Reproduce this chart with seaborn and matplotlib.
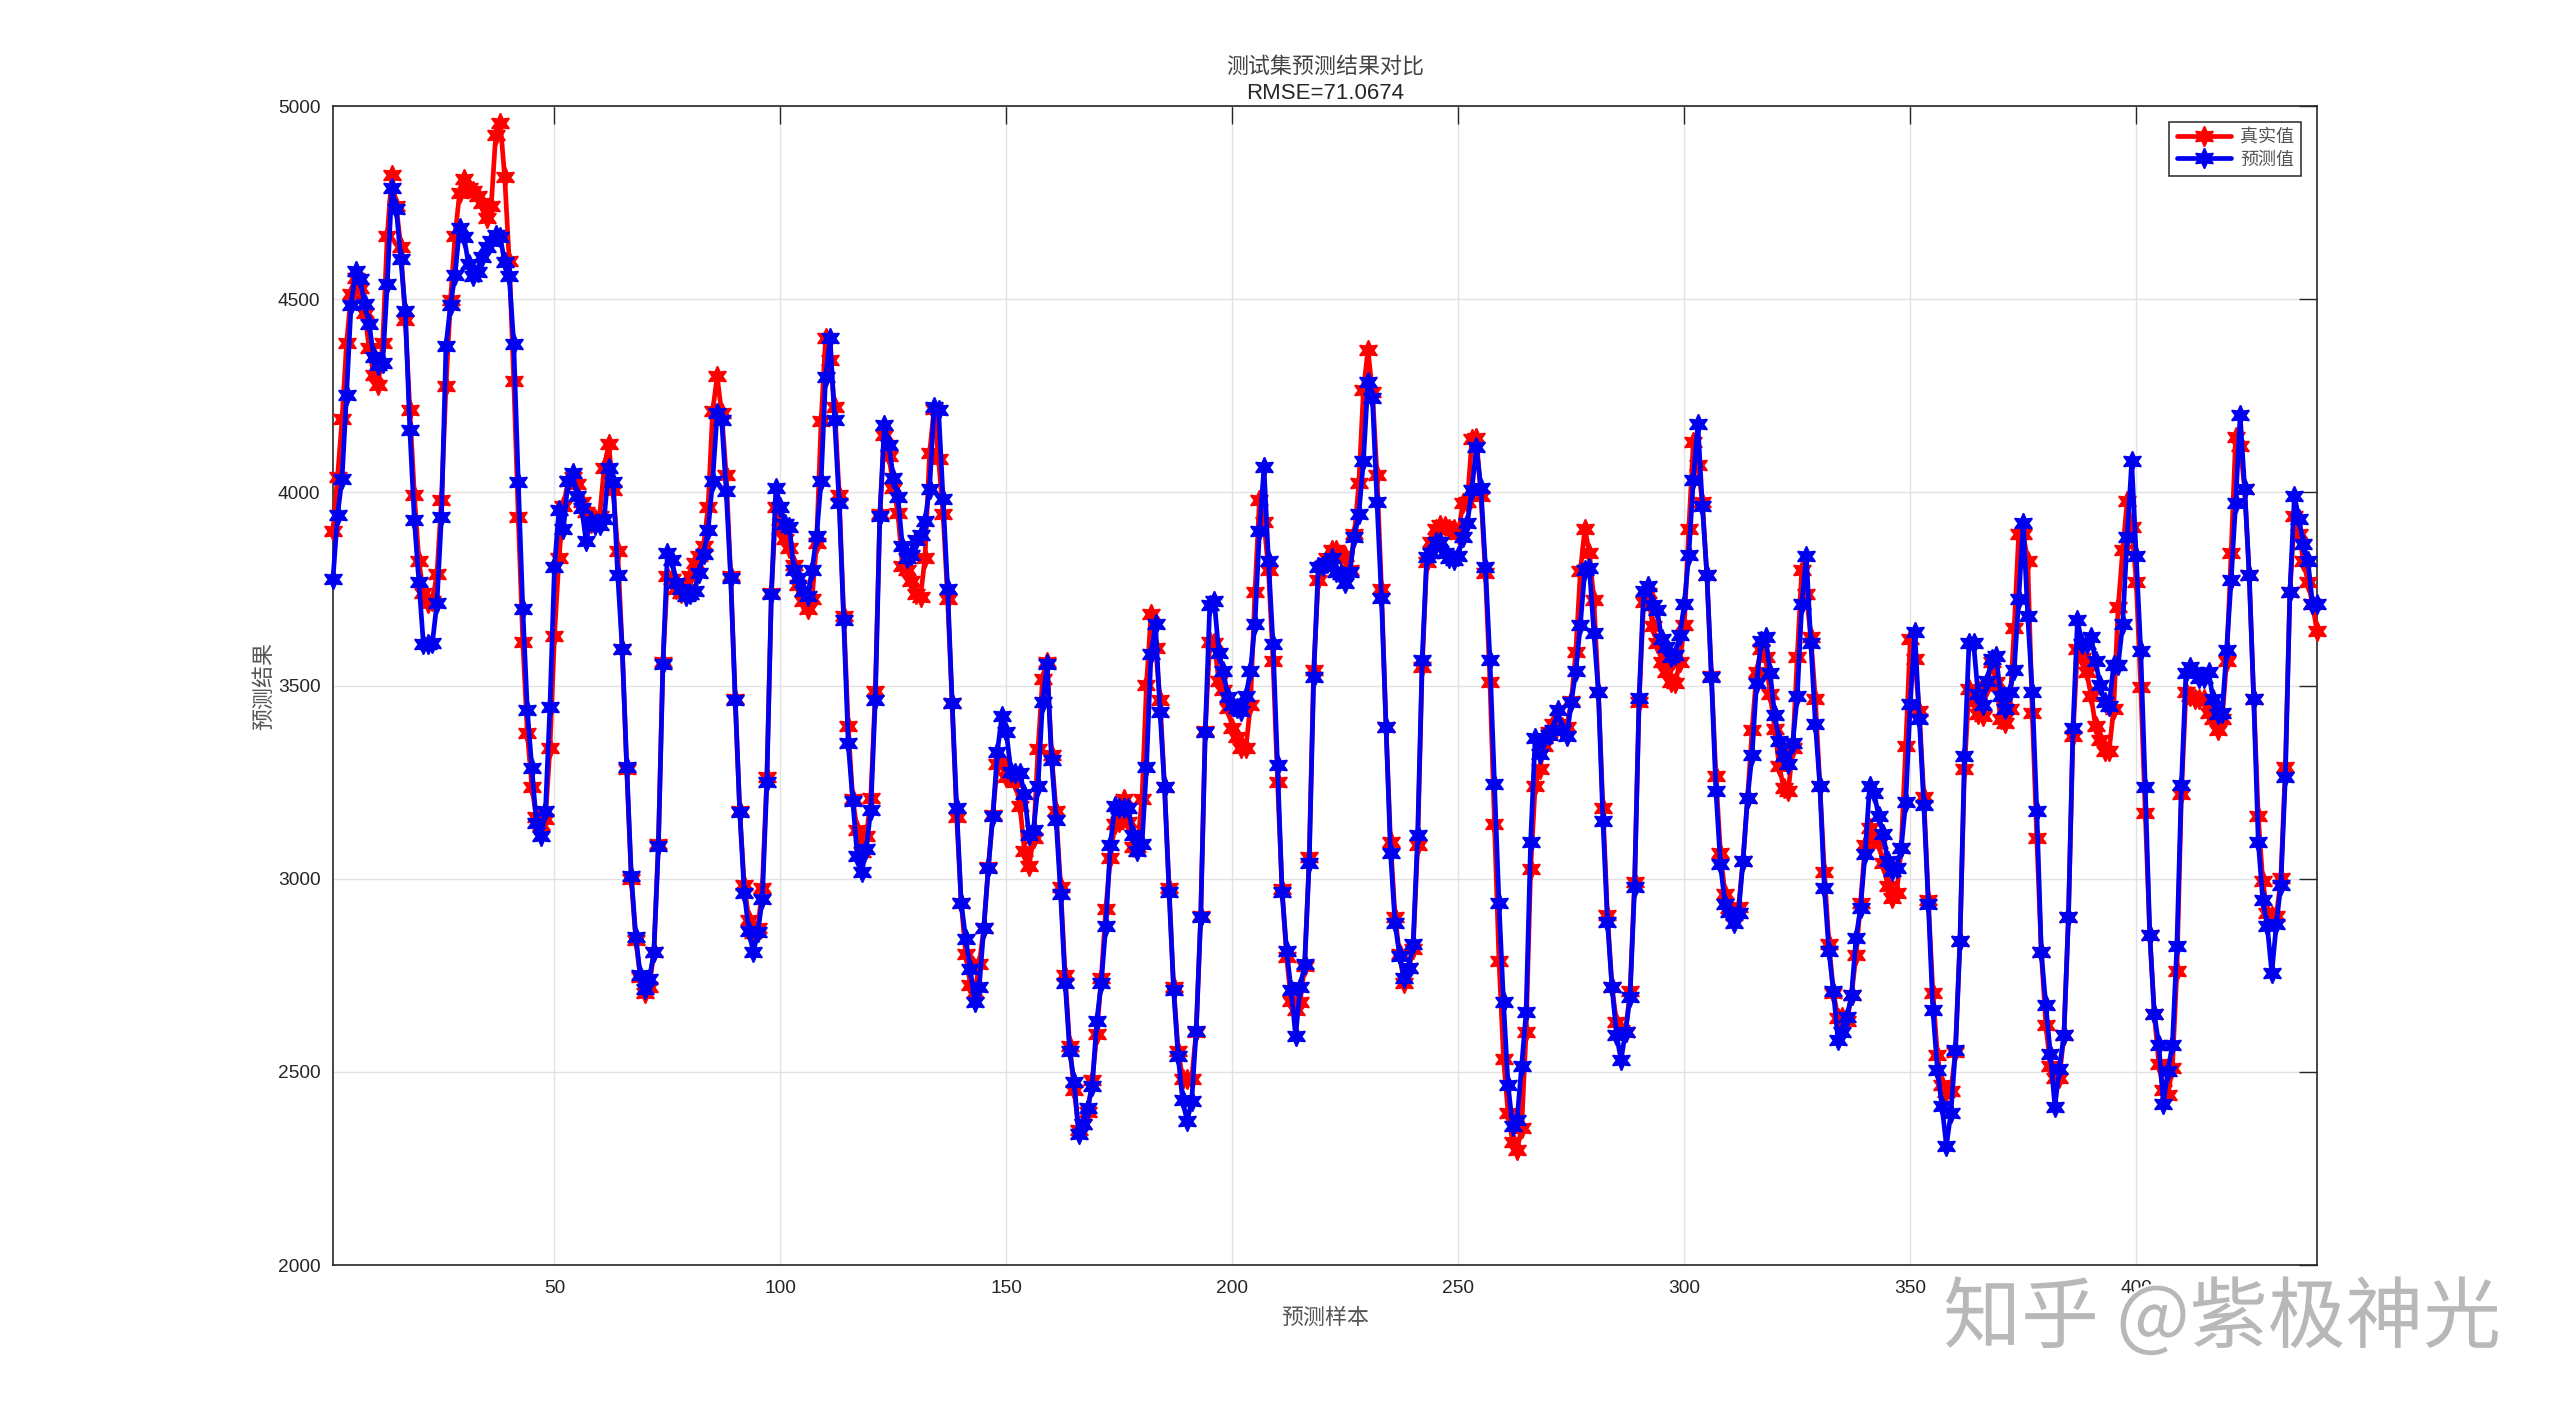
import matplotlib
matplotlib.use("Agg")
import matplotlib.pyplot as plt
import matplotlib.patheffects as pe
import numpy as np
import pandas as pd
import seaborn as sns

true_values = [
    3900,4039,4189,4386,4513,4555,4530,4465,4373,4305,
    4279,4386,4664,4821,4740,4635,4446,4212,3994,3823,
    3739,3714,3720,3788,3981,4275,4497,4664,4774,4812,
    4787,4780,4767,4750,4709,4740,4924,4957,4815,4598,
    4288,3935,3613,3377,3238,3160,3140,3155,3337,3627,
    3829,3964,4030,4040,4022,3975,3950,3920,3930,3940,
    4064,4125,4005,3849,3595,3283,3000,2840,2745,2705,
    2720,2810,3090,3560,3784,3775,3750,3740,3765,3784,
    3817,3835,3860,3963,4210,4300,4205,4046,3784,3465,
    3175,2984,2894,2860,2872,2977,3262,3740,3963,3905,
    3880,3857,3811,3760,3718,3698,3725,3868,4184,4399,
    4343,4221,3993,3681,3394,3205,3126,3070,3110,3209,
    3487,3945,4148,4095,4012,3946,3810,3798,3771,3738,
    3730,3831,4102,4215,4085,3943,3725,3454,3160,2938,
    2806,2726,2704,2779,2872,3030,3165,3298,3302,3263,
    3263,3250,3188,3072,3034,3104,3336,3517,3560,3320,
    3174,2979,2751,2566,2453,2350,2366,2397,2478,2597,
    2744,2921,3054,3141,3147,3205,3147,3083,3083,3205,
    3502,3685,3598,3463,3236,2976,2719,2555,2482,2482,
    2482,2603,2904,3381,3612,3610,3512,3488,3442,3390,
    3367,3338,3338,3450,3743,3980,3922,3798,3564,3251,
    2974,2798,2684,2660,2682,2775,3055,3540,3774,3810,
    3830,3850,3850,3836,3836,3800,3892,4025,4264,4369,
    4260,4046,3749,3393,3096,2902,2804,2731,2769,2818,
    3087,3548,3819,3871,3906,3916,3913,3906,3906,3892,
    3972,3975,4138,4140,3990,3791,3509,3141,2787,2534,
    2394,2319,2298,2354,2603,3026,3239,3284,3344,3380,
    3400,3400,3393,3393,3459,3587,3796,3906,3843,3721,
    3482,3183,2905,2720,2628,2607,2604,2708,2991,3457,
    3716,3740,3653,3610,3562,3534,3509,3506,3560,3656,
    3906,4129,4070,3975,3785,3525,3266,3066,2961,2925,
    2905,2927,3047,3210,3384,3536,3594,3575,3478,3388,
    3292,3234,3227,3337,3575,3800,3736,3626,3465,3240,
    3017,2832,2705,2640,2641,2631,2699,2802,2937,3088,
    3130,3105,3092,3040,2982,2950,2963,3079,3343,3620,
    3568,3433,3212,2944,2705,2544,2467,2448,2450,2551,
    2838,3285,3491,3459,3427,3420,3498,3560,3510,3412,
    3403,3438,3649,3893,3893,3822,3429,3105,2809,2622,
    2515,2485,2485,2595,2900,3370,3595,3572,3536,3474,
    3394,3358,3331,3331,3438,3702,3850,3977,3911,3768,
    3497,3171,2855,2650,2520,2452,2440,2511,2761,3219,
    3483,3474,3465,3465,3465,3429,3412,3385,3412,3563,
    3843,4143,4119,4009,3786,3465,3162,2993,2912,2903,
    2903,3001,3290,3741,3938,3893,3822,3768,3711,3640,
]
pred_values = [
    3776,3941,4035,4253,4485,4572,4551,4487,4437,4350,
    4330,4334,4538,4787,4733,4604,4469,4161,3929,3767,
    3608,3608,3611,3714,3937,4379,4485,4562,4685,4660,
    4590,4560,4570,4610,4635,4650,4665,4660,4595,4560,
    4383,4027,3698,3437,3286,3145,3110,3174,3445,3806,
    3955,3906,4030,4050,3990,3960,3874,3926,3915,3915,
    3932,4063,4026,3785,3595,3289,3007,2850,2750,2715,
    2740,2810,3085,3555,3844,3824,3765,3751,3731,3738,
    3745,3791,3841,3903,4029,4205,4188,4003,3778,3463,
    3173,2964,2865,2809,2861,2948,3249,3738,4012,3963,
    3917,3910,3798,3778,3745,3731,3798,3888,4029,4298,
    4399,4188,3972,3669,3350,3202,3059,3017,3077,3179,
    3463,3939,4175,4122,4036,3989,3860,3831,3837,3877,
    3890,3927,4009,4221,4212,3983,3751,3454,3183,2938,
    2845,2766,2680,2720,2872,3028,3163,3328,3421,3379,
    3277,3274,3274,3219,3112,3126,3240,3457,3556,3307,
    3152,2960,2731,2555,2473,2340,2366,2407,2464,2632,
    2731,2878,3087,3188,3184,3184,3184,3112,3072,3089,
    3288,3581,3658,3431,3236,2965,2713,2540,2426,2372,
    2424,2606,2902,3379,3708,3720,3584,3538,3471,3450,
    3442,3434,3473,3538,3660,3901,4065,3822,3608,3293,
    2965,2814,2713,2592,2719,2779,3040,3523,3807,3809,
    3818,3829,3794,3789,3766,3794,3885,3945,4081,4285,
    4243,3976,3726,3393,3066,2884,2801,2743,2769,2832,
    3113,3565,3833,3843,3871,3871,3843,3829,3825,3836,
    3885,3920,4007,4117,4011,3808,3565,3246,2937,2680,
    2467,2361,2375,2516,2654,3096,3363,3323,3365,3372,
    3384,3436,3386,3368,3457,3537,3657,3798,3803,3636,
    3482,3148,2888,2720,2596,2530,2604,2694,2979,3468,
    3744,3758,3709,3695,3620,3600,3575,3580,3630,3710,
    3839,4032,4178,3965,3787,3523,3227,3037,2935,2914,
    2886,2912,3047,3210,3321,3507,3614,3626,3532,3424,
    3356,3317,3298,3352,3472,3710,3836,3611,3401,3240,
    2976,2812,2708,2583,2603,2641,2699,2847,2925,3064,
    3240,3221,3163,3115,3047,3021,3028,3079,3198,3453,
    3639,3414,3191,2935,2660,2506,2412,2309,2394,2557,
    2838,3317,3611,3611,3478,3450,3511,3569,3576,3474,
    3438,3483,3540,3724,3920,3679,3483,3176,2809,2672,
    2547,2410,2508,2595,2900,3390,3670,3608,3608,3626,
    3563,3501,3456,3447,3554,3554,3658,3884,4080,3835,
    3590,3237,2855,2650,2570,2417,2502,2570,2827,3242,
    3533,3549,3536,3519,3519,3536,3465,3426,3429,3593,
    3772,3973,4200,4009,3786,3465,3096,2944,2877,2755,
    2882,2984,3264,3741,3991,3932,3866,3822,3711,3711,
]
x_ticks = [50, 100, 150, 200, 250, 300, 350, 400]
y_ticks = [2000, 2500, 3000, 3500, 4000, 4500, 5000]

sns.set_theme(style="white")
FONTS = ["Liberation Sans", "Noto Sans CJK SC", "DejaVu Sans"]
plt.rcParams["font.family"] = FONTS

W, H = 2560, 1420
TOP, BOTTOM = 106, 1265
fig = plt.figure(figsize=(W / 100, H / 100), dpi=100, facecolor="white")
ax = fig.add_axes([333 / W, 1 - BOTTOM / H, (2317 - 333) / W, (BOTTOM - TOP) / H])

df = pd.DataFrame({"sample": np.arange(1, len(true_values) + 1),
                   "true": true_values, "pred": pred_values})
star = (6, 1, 0)
for col, color, name in [("true", "#FF0000", "真实值"), ("pred", "#0000F0", "预测值")]:
    sns.lineplot(data=df, x="sample", y=col, ax=ax, color=color, label=name,
                 linewidth=3.4, marker=star, markersize=14.5, markeredgecolor=color,
                 markerfacecolor=color, markeredgewidth=1.2, clip_on=False,
                 errorbar=None, sort=False, zorder=3)

ax.set_xlim(1, 440)
ax.set_ylim(2000, 5000)
ax.set_xticks(x_ticks)
ax.set_yticks(y_ticks)
ax.grid(True, color="#e2e2e2", linewidth=1.0)
ax.set_axisbelow(True)
ax.tick_params(axis="both", direction="in", length=13, width=1, color="#262626",
               labelcolor="#262626", labelsize=13.8, top=True, right=True)
ax.tick_params(axis="x", pad=11)
ax.tick_params(axis="y", pad=9)
for s in ax.spines.values():
    s.set_visible(True)
    s.set_color("#262626")
    s.set_linewidth(1.2)

ax.set_title("测试集预测结果对比", fontsize=15.8, color="#444444", pad=24)
ax.annotate("RMSE=71.0674", xy=(0.5, 1.0), xycoords="axes fraction", xytext=(0, 1.5),
            textcoords="offset points", ha="center", va="bottom",
            fontsize=16, color="#262626")
ax.set_xlabel("预测样本", fontsize=15.8, color="#555555", labelpad=8)
ax.set_ylabel("预测结果", fontsize=15.8, color="#555555", labelpad=2)

leg = ax.legend(loc="upper right", bbox_to_anchor=((2301 - 333) / 1984, 1 - (122 - TOP) / (BOTTOM - TOP)),
                fontsize=13, frameon=True, fancybox=False, framealpha=1, edgecolor="#262626",
                handlelength=3.0, handletextpad=0.5, labelspacing=0.3,
                borderpad=0.4, borderaxespad=0)
leg.get_frame().set_linewidth(1.1)
for t in leg.get_texts():
    t.set_color("#555555")

wm = fig.text(2222 / W, 1 - 1320 / H, "知乎 @紫极神光", fontsize=56, color="#b8b8b8",
              ha="center", va="center", family=["Noto Sans CJK SC", "DejaVu Sans"], zorder=10)
wm.set_path_effects([pe.withStroke(linewidth=3, foreground="white")])

fig.savefig("out.png", dpi=100, facecolor="white")
